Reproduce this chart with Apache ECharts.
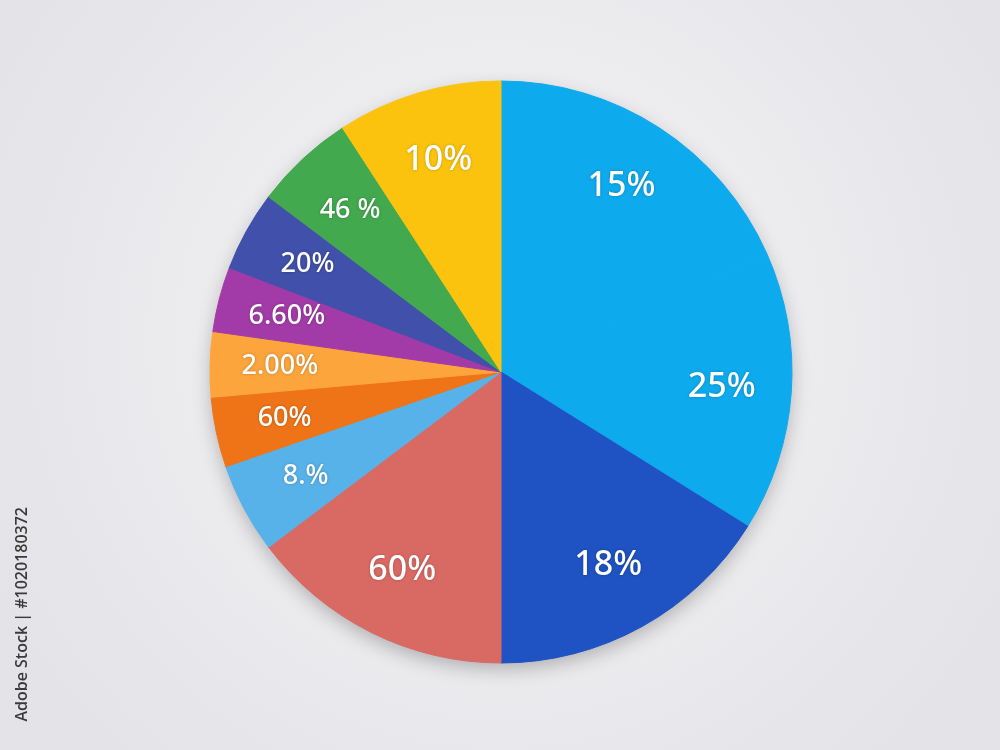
<!DOCTYPE html>
<html>
<head>
<meta charset="utf-8">
<script src="https://cdn.jsdelivr.net/npm/echarts@6/dist/echarts.min.js"></script>
<style>html,body{margin:0;padding:0;}#c{width:1000px;height:750px;}</style>
</head>
<body>
<div id="c"></div>
<script>
// Slice labels (as printed on the chart), clockwise from 12 o'clock
var sliceLabels = ['15%', '25%', '18%', '60%', '8.%', '60%', '2.00%', '6.60%', '20%', '46 %', '10%'];
// Slice sizes (degrees of arc)
var sliceAngles = [66, 56, 58, 53, 18, 14, 13, 13, 16, 20, 33];
// Slice colours
var sliceColors = ['#0eaaee', '#0eaaee', '#1f52c2', '#d96a63', '#58b2ea', '#ef7418', '#fca53c', '#a23ba8', '#4150aa', '#42a94e', '#fcc30e'];

var chart = echarts.init(document.getElementById('c'));
var R = 291;
var C = [501, 372];

var pieData = sliceAngles.map(function (v, i) {
  return { value: v, name: 'slice' + i, itemStyle: { color: sliceColors[i], borderColor: sliceColors[i], borderWidth: 1 } };
});
var shadowData = sliceAngles.map(function (v, i) {
  return { value: v, name: 'shadow' + i };
});
var labelData = sliceAngles.map(function (v, i) {
  return {
    value: v, name: 'label' + i,
    label: { formatter: sliceLabels[i], fontSize: v >= 30 ? 34 : 27 }
  };
});

chart.setOption({
  backgroundColor: {
    type: 'radial', x: 0.5, y: 0.45, r: 0.75,
    colorStops: [{ offset: 0, color: '#f5f5f7' }, { offset: 1, color: '#e4e4e8' }]
  },
  animation: false,
  graphic: [{
    type: 'text', left: 14, top: 507, rotation: Math.PI / 2,
    style: { text: 'Adobe Stock | #1020180372', fill: '#3a3a3a', font: '600 16px "Open Sans"' }
  }],
  series: [
    {
      type: 'pie', center: C, radius: [0, R - 2], startAngle: 90, clockwise: true,
      silent: true, label: { show: false }, labelLine: { show: false },
      itemStyle: { color: '#d8d8dc', shadowBlur: 20, shadowColor: 'rgba(0,0,0,0.28)', shadowOffsetY: 7 },
      data: shadowData, z: 0
    },
    {
      type: 'pie', center: C, radius: [0, R], startAngle: 90, clockwise: true,
      silent: true, label: { show: false }, labelLine: { show: false },
      data: pieData, z: 1
    },
    {
      type: 'pie', center: C, radius: [R * 0.5, R], startAngle: 90, clockwise: true,
      silent: true, labelLine: { show: false },
      itemStyle: { color: 'rgba(0,0,0,0)' },
      label: {
        show: true, position: 'inside', color: '#ffffff',
        fontFamily: '"Noto Sans"', fontWeight: 500,
        textShadowColor: 'rgba(0,0,0,0.25)', textShadowBlur: 3
      },
      data: labelData, z: 2
    }
  ]
});
</script>
</body>
</html>
